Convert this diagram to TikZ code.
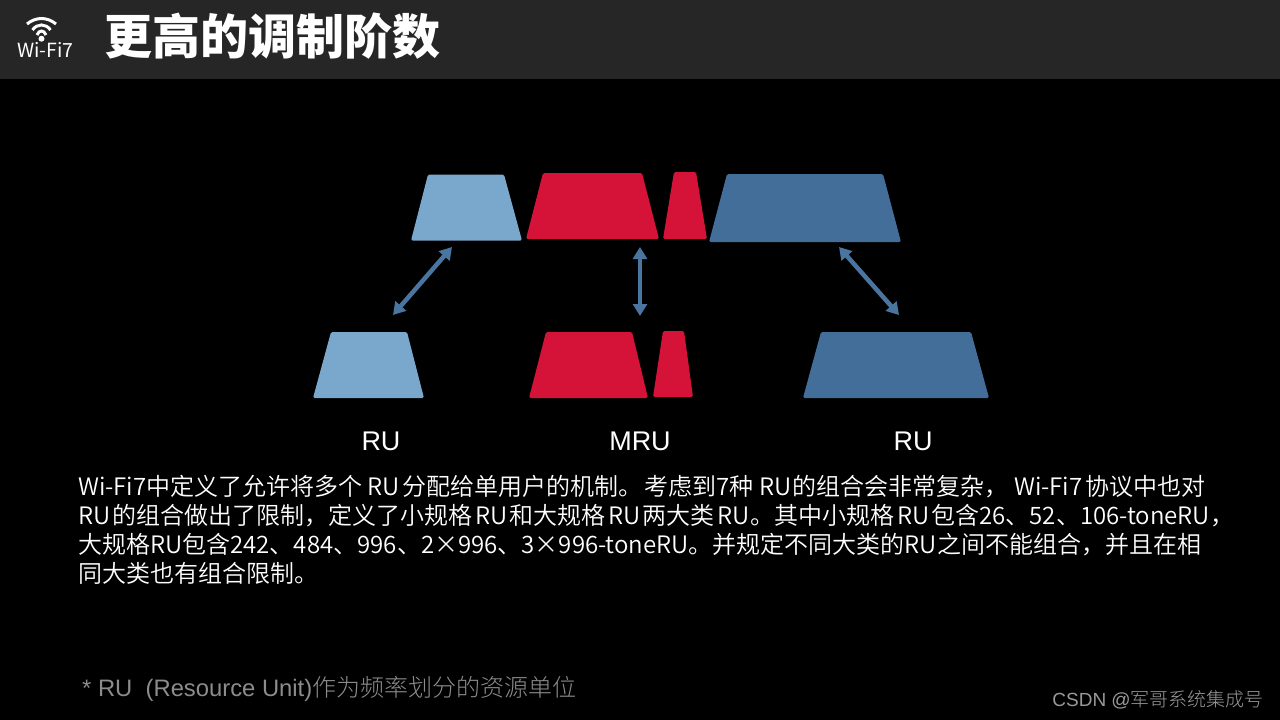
\documentclass[tikz,border=0pt]{standalone}
\usepackage{fontspec}
\setmainfont{Liberation Sans}
\newfontfamily\cjk{Noto Sans CJK SC}
\newfontfamily\cjklight{Noto Sans CJK SC Light}
\newfontfamily\cjkdemi{Noto Sans CJK SC DemiLight}
\newfontfamily\cjkblack{Noto Sans CJK SC Black}
\usetikzlibrary{arrows.meta}
\definecolor{headergray}{HTML}{262626}
\definecolor{rulight}{HTML}{7AA7CC}
\definecolor{rudark}{HTML}{436E9A}
\definecolor{mrured}{HTML}{D51238}
\definecolor{arrowblue}{HTML}{4A75A0}
\newcommand{\rugap}[1]{\hspace{#1pt}}
\tikzset{
  rubox/.style={rounded corners=1.5pt},
  ruarrow/.style={draw=arrowblue, line width=4.5pt, {Triangle[width=14pt,length=12pt]}-{Triangle[width=14pt,length=12pt]}},
  rulabel/.style={text=white, font=\fontsize{27}{30}\selectfont},
  wifiarc/.style={draw=white, line width=3pt}
}
\begin{document}
\begin{tikzpicture}[x=1pt,y=-1pt]
\useasboundingbox (0,0) rectangle (1280,720);
\fill[black] (0,0) rectangle (1280,720);
\fill[headergray] (0,0) rectangle (1280,79);
\draw[wifiarc] (27,24) .. controls (36,16.7) and (47,16.7) .. (56,24);
\draw[wifiarc] (32.5,30) .. controls (37,23.3) and (46,23.3) .. (50.5,30);
\draw[wifiarc] (37,35) .. controls (39,29.7) and (44,29.7) .. (46,35);
\fill[white] (41.5,38.7) circle (3);
\node[inner sep=0pt, text=white, font=\cjk\fontsize{19.5}{22}\selectfont] (logo) at (45.5,50) {Wi-Fi7};
\node[anchor=west, inner sep=0pt, text=white, font=\cjkblack\fontsize{48}{50}\selectfont] (title) at (104,36) {更高的调制阶数};
\fill[rubox, rulight] (411,240.5) -- (428,174.5) -- (504,174.5) -- (522,240.5) -- cycle;
\fill[rubox, mrured] (526,239) -- (543,173) -- (642,173) -- (659,239) -- cycle;
\fill[rubox, mrured] (663,239) -- (674,172) -- (696,172) -- (707,239) -- cycle;
\fill[rubox, rudark] (709,242) -- (727,174) -- (883,174) -- (901,242) -- cycle;
\fill[rubox, rulight] (313,398) -- (331,332) -- (407,332) -- (424,398) -- cycle;
\fill[rubox, mrured] (529,398) -- (546,332) -- (632,332) -- (648,398) -- cycle;
\fill[rubox, mrured] (653,397) -- (663,331) -- (684,331) -- (693,397) -- cycle;
\fill[rubox, rudark] (803,398) -- (821,332) -- (971,332) -- (989,398) -- cycle;
\coordinate (leftup) at (452,247);
\coordinate (leftdown) at (393,315);
\coordinate (midup) at (640,247);
\coordinate (middown) at (640,316);
\coordinate (rightup) at (839,247);
\coordinate (rightdown) at (899,315);
\draw[ruarrow] (leftup) -- (leftdown);
\draw[ruarrow] (midup) -- (middown);
\draw[ruarrow] (rightup) -- (rightdown);
\node[rulabel] (ruleft) at (381,441) {RU};
\node[rulabel] (mrumid) at (640,441) {MRU};
\node[rulabel] (ruright) at (913,441) {RU};
\node[anchor=north west, inner sep=0pt, align=left, text=white, font=\cjkdemi\fontsize{24}{29}\selectfont] (body) at (78,475.5) {Wi-Fi7中定义了允许将多个\rugap{5}RU\rugap{3}分配给单用户的机制。\rugap{2}考虑到7种\rugap{6}RU的组合会非常复杂，\rugap{6}Wi-Fi7\rugap{3}协议中也对\\RU\rugap{2}的组合做出了限制，定义了小规格\rugap{3}RU\rugap{2}和大规格\rugap{3}RU\rugap{2}两大类\rugap{3}RU。其中小规格\rugap{3}RU\rugap{2}包含26、52、106-toneRU，\\大规格RU包含242、484、996、2×996、3×996-toneRU。并规定不同大类的RU之间不能组合，并且在相\\同大类也有组合限制。};
\node[anchor=west, inner sep=0pt, text=black!45!white, font=\fontsize{23.8}{26}\selectfont] (note) at (82,689) {* RU\ \ (Resource Unit){\cjklight\fontsize{24}{26}\selectfont 作为频率划分的资源单位}};
\node[anchor=east, inner sep=0pt, text=black!40!white, font=\fontsize{19}{22}\selectfont] (mark) at (1264,700) {CSDN @{\cjklight 军哥系统集成号}};
\end{tikzpicture}
\end{document}
